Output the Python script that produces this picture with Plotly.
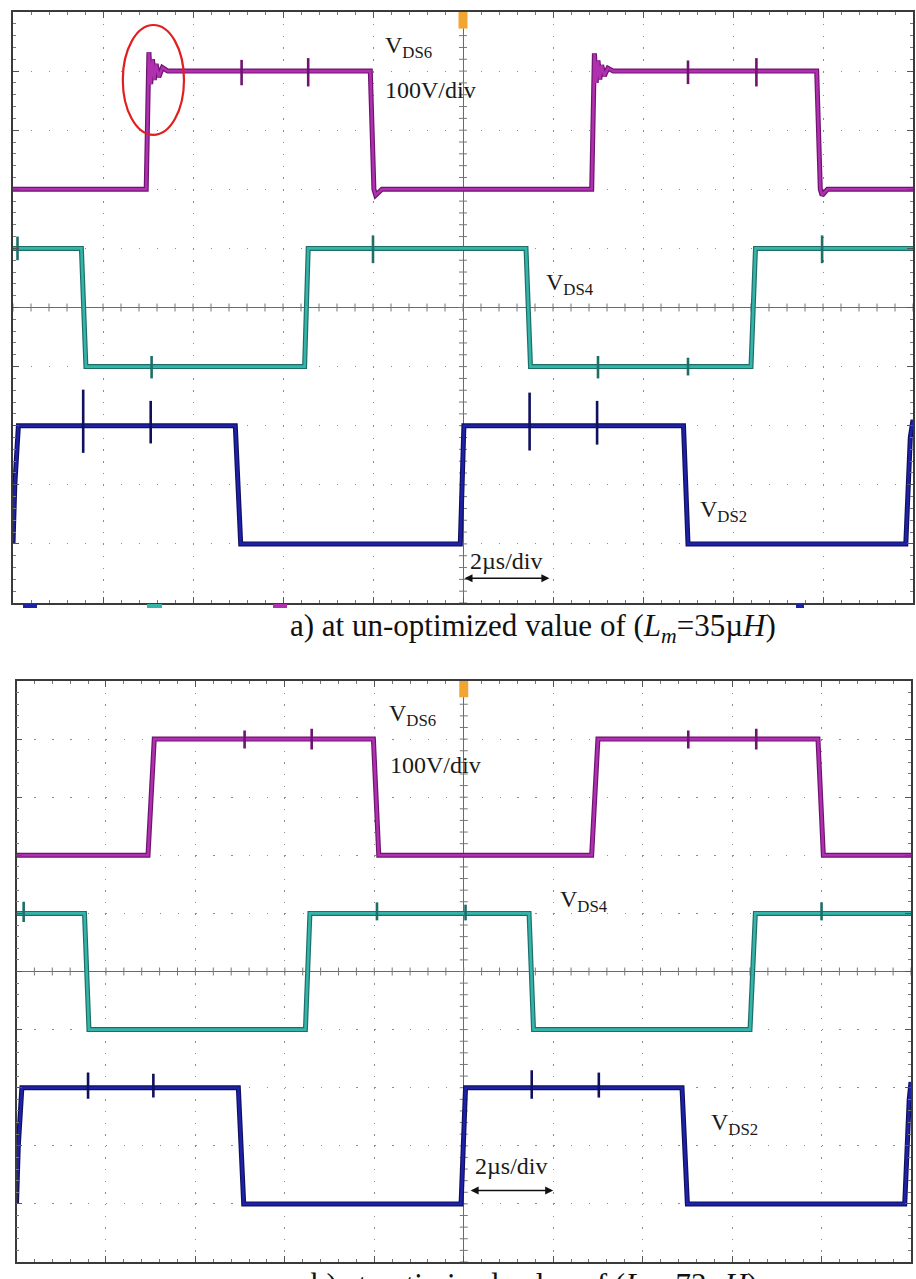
import numpy as np
import plotly.graph_objects as go

# ---------------- data (screen divisions: x = time div, y = volt div, centre = 0) ----------------
# Panel a) un-optimized Lm = 35 uH
A_VDS6_T = [-5.0, -3.52, -3.49, -3.47, -3.45, -3.43, -3.41, -3.38, -3.34, -3.28, -1.03, -0.99, -0.97, -0.9,
            1.43, 1.46, 1.48, 1.50, 1.52, 1.54, 1.57, 1.61, 1.67, 3.93, 3.97, 3.99, 4.05, 5.0]
A_VDS6_V = [2.0, 2.0, 4.32, 3.78, 4.2, 3.85, 4.12, 3.9, 4.06, 4.0, 4.0, 2.0, 1.9, 2.0,
            2.0, 4.3, 3.8, 4.18, 3.86, 4.1, 3.92, 4.05, 4.0, 4.0, 2.0, 1.9, 2.0, 2.0]
A_VDS4_T = [-5.0, -4.24, -4.19, -1.76, -1.72, 0.70, 0.75, 3.20, 3.25, 5.0]
A_VDS4_V = [1.0, 1.0, -1.0, -1.0, 1.0, 1.0, -1.0, -1.0, 1.0, 1.0]
A_VDS2_T = [-5.0, -4.98, -4.94, -2.53, -2.47, -0.03, 0.01, 2.45, 2.50, 4.92, 4.97, 5.0]
A_VDS2_V = [-4.0, -3.0, -2.0, -2.0, -4.0, -4.0, -2.0, -2.0, -4.0, -4.0, -2.2, -1.9]

# switching spikes: time, top, bottom
A_SPK6_T = [-2.46, -1.72, 2.50, 3.26]
A_SPK6_HI = [4.19, 4.22, 4.18, 4.22]
A_SPK6_LO = [3.76, 3.74, 3.78, 3.74]
A_SPK4_T = [-4.95, -3.46, -1.0, 1.50, 2.50, 3.99]
A_SPK4_HI = [1.2, -0.82, 1.22, -0.82, -0.85, 1.22]
A_SPK4_LO = [0.8, -1.2, 0.75, -1.2, -1.15, 0.75]
A_SPK2_T = [-4.22, -3.47, 0.74, 1.49]
A_SPK2_HI = [-1.39, -1.58, -1.44, -1.58]
A_SPK2_LO = [-2.46, -2.30, -2.42, -2.32]

# Panel b) optimized Lm = 73 uH
B_VDS6_T = [-5.0, -3.53, -3.46, -1.01, -0.95, 1.43, 1.50, 3.96, 4.02, 5.0]
B_VDS6_V = [2.0, 2.0, 4.0, 4.0, 2.0, 2.0, 4.0, 4.0, 2.0, 2.0]
B_VDS4_T = [-5.0, -4.24, -4.19, -1.77, -1.72, 0.73, 0.78, 3.20, 3.26, 5.0]
B_VDS4_V = [1.0, 1.0, -1.0, -1.0, 1.0, 1.0, -1.0, -1.0, 1.0, 1.0]
B_VDS2_T = [-5.0, -4.98, -4.94, -2.52, -2.46, -0.03, 0.02, 2.44, 2.50, 4.93, 4.98, 5.0]
B_VDS2_V = [-4.0, -3.0, -2.0, -2.0, -4.0, -4.0, -2.0, -2.0, -4.0, -4.0, -2.2, -1.9]

B_SPK6_T = [-2.45, -1.70, 2.51, 3.27]
B_SPK6_HI = [4.15, 4.18, 4.15, 4.18]
B_SPK6_LO = [3.84, 3.82, 3.84, 3.82]
B_SPK4_T = [-4.92, -0.97, 0.02, 4.0]
B_SPK4_HI = [1.2, 1.19, 1.15, 1.19]
B_SPK4_LO = [0.85, 0.88, 0.88, 0.88]
B_SPK2_T = [-4.20, -3.47, 0.76, 1.51]
B_SPK2_HI = [-1.74, -1.76, -1.70, -1.74]
B_SPK2_LO = [-2.19, -2.17, -2.19, -2.17]

LABELS = ["V<sub>DS6</sub>", "100V/div", "V<sub>DS4</sub>", "V<sub>DS2</sub>", "2\u00b5s/div"]
A_LABEL_X = [-0.89, -0.89, 0.90, 2.61, 0.06]
A_LABEL_Y = [4.40, 3.68, 0.40, -3.45, -4.29]
B_LABEL_X = [-0.86, -0.85, 1.05, 2.74, 0.10]
B_LABEL_Y = [4.42, 3.55, 1.22, -2.62, -3.34]
A_ARROW = (0.0, 0.96, -4.58)
B_ARROW = (0.06, 1.00, -3.77)
CAPTION_A = "a) at un-optimized value of (<i>L</i><sub><i>m</i></sub>=35\u00b5<i>H</i>)"
CAPTION_B = "b) at optimized value of (<i>L</i><sub><i>m</i></sub>=73\u00b5<i>H</i>)"

# ---------------- style ----------------
W, H = 916, 1279
MAG, MAG_D = "#B030B0", "#6E1470"
TEAL, TEAL_D = "#35B5AA", "#1E6E68"
BLUE, BLUE_D = "#1E22A8", "#10105E"
FONT = "Liberation Serif, Times New Roman, serif"

# pixel frames of the two screens
PA = dict(l=13, r=913, t=12, b=603)
PB = dict(l=16.5, r=911, t=681, b=1262)

fig = go.Figure()


def add_wave(t, v, col, dark, xa, ya):
    fig.add_trace(go.Scatter(x=t, y=v, mode="lines", line=dict(color=dark, width=5),
                             xaxis=xa, yaxis=ya, hoverinfo="skip", showlegend=False))
    fig.add_trace(go.Scatter(x=t, y=v, mode="lines", line=dict(color=col, width=2.6),
                             xaxis=xa, yaxis=ya, hoverinfo="skip", showlegend=False))


def add_spikes(t, hi, lo, dark, xa, ya):
    xs, ys = [], []
    for ti, h, l in zip(t, hi, lo):
        xs += [ti, ti, None]
        ys += [l, h, None]
    fig.add_trace(go.Scatter(x=xs, y=ys, mode="lines", line=dict(color=dark, width=2.6),
                             xaxis=xa, yaxis=ya, hoverinfo="skip", showlegend=False))


def add_center_ticks(xa, ya, dy, dx):
    xs, ys = [], []
    for p in np.arange(-5, 5.001, 0.2):
        xs += [p, p, None]
        ys += [-dy, dy, None]
        xs += [-dx, dx, None]
        ys += [p, p, None]
    fig.add_trace(go.Scatter(x=xs, y=ys, mode="lines", line=dict(color="#777777", width=1),
                             xaxis=xa, yaxis=ya, hoverinfo="skip", showlegend=False))


for xa, ya, P in (("x", "y", PA), ("x2", "y2", PB)):
    dy = 4.0 / ((P["b"] - P["t"]) / 10)
    dx = 4.0 / ((P["r"] - P["l"]) / 10)
    add_center_ticks(xa, ya, dy, dx)

add_wave(A_VDS6_T, A_VDS6_V, MAG, MAG_D, "x", "y")
add_wave(A_VDS4_T, A_VDS4_V, TEAL, TEAL_D, "x", "y")
add_wave(A_VDS2_T, A_VDS2_V, BLUE, BLUE_D, "x", "y")
add_spikes(A_SPK6_T, A_SPK6_HI, A_SPK6_LO, MAG_D, "x", "y")
add_spikes(A_SPK4_T, A_SPK4_HI, A_SPK4_LO, TEAL_D, "x", "y")
add_spikes(A_SPK2_T, A_SPK2_HI, A_SPK2_LO, BLUE_D, "x", "y")

add_wave(B_VDS6_T, B_VDS6_V, MAG, MAG_D, "x2", "y2")
add_wave(B_VDS4_T, B_VDS4_V, TEAL, TEAL_D, "x2", "y2")
add_wave(B_VDS2_T, B_VDS2_V, BLUE, BLUE_D, "x2", "y2")
add_spikes(B_SPK6_T, B_SPK6_HI, B_SPK6_LO, MAG_D, "x2", "y2")
add_spikes(B_SPK4_T, B_SPK4_HI, B_SPK4_LO, TEAL_D, "x2", "y2")
add_spikes(B_SPK2_T, B_SPK2_HI, B_SPK2_LO, BLUE_D, "x2", "y2")


def axis_style(P, horizontal):
    if horizontal:
        dom = [P["l"] / W, P["r"] / W]
        step = (P["b"] - P["t"]) / 50.0   # dots along vertical grid lines
    else:
        dom = [1 - P["b"] / H, 1 - P["t"] / H]
        step = (P["r"] - P["l"]) / 50.0   # dots along horizontal grid lines
    return dict(domain=dom, range=[-5, 5], showticklabels=False, fixedrange=True,
                showline=True, linecolor="#3a3a3a", linewidth=1.6, mirror="ticks",
                ticks="inside", ticklen=6, tickcolor="#555555", tickwidth=1, dtick=1, tick0=0,
                minor=dict(ticks="inside", ticklen=3, dtick=0.2, tickcolor="#777777", showgrid=False),
                showgrid=True, gridcolor="#8c8c8c", gridwidth=1.4,
                griddash="1.4px,%.2fpx" % (step - 1.4),
                zeroline=True, zerolinecolor="#6a6a6a", zerolinewidth=1)


fig.update_layout(
    width=W, height=H, margin=dict(l=0, r=0, t=0, b=0),
    paper_bgcolor="white", plot_bgcolor="white", showlegend=False,
    xaxis=dict(axis_style(PA, True), anchor="y"),
    yaxis=dict(axis_style(PA, False), anchor="x"),
    xaxis2=dict(axis_style(PB, True), anchor="y2"),
    yaxis2=dict(axis_style(PB, False), anchor="x2"),
)

ann = []
for (xa, ya, LX, LY, AR) in (("x", "y", A_LABEL_X, A_LABEL_Y, A_ARROW),
                              ("x2", "y2", B_LABEL_X, B_LABEL_Y, B_ARROW)):
    for txt, lx, ly in zip(LABELS, LX, LY):
        ann.append(dict(x=lx, y=ly, xref=xa, yref=ya, text=txt, showarrow=False,
                        xanchor="left", yanchor="middle",
                        font=dict(family=FONT, size=24, color="#1a1a1a")))
    x0, x1, ay = AR
    ann.append(dict(x=x1, y=ay, ax=x0, ay=ay, xref=xa, yref=ya, axref=xa, ayref=ya,
                    text="", showarrow=True, arrowhead=2, startarrowhead=2,
                    arrowside="end+start", arrowsize=1, arrowwidth=1.6, arrowcolor="#111111"))

ann.append(dict(x=533 / W, y=1 - 628 / H, xref="paper", yref="paper", text=CAPTION_A,
                showarrow=False, xanchor="center", yanchor="middle",
                font=dict(family=FONT, size=31, color="#111111")))
ann.append(dict(x=534 / W, y=1 - 1265 / H, xref="paper", yref="paper", text=CAPTION_B,
                showarrow=False, xanchor="center", yanchor="top",
                font=dict(family=FONT, size=31, color="#111111")))
fig.update_layout(annotations=ann)

shapes = [
    # red ellipse around the turn-on overshoot (panel a)
    dict(type="circle", xref="x", yref="y", x0=-3.78, x1=-3.10, y0=2.92, y1=4.78,
         line=dict(color="#E02020", width=2.2)),
    # orange trigger markers at top centre
    dict(type="rect", xref="x", yref="y", x0=-0.05, x1=0.05, y0=4.72, y1=5.0,
         fillcolor="#F2A530", line=dict(width=0)),
    dict(type="rect", xref="x2", yref="y2", x0=-0.05, x1=0.05, y0=4.72, y1=5.0,
         fillcolor="#F2A530", line=dict(width=0)),
]
# channel markers below panel a
for px0, px1, c in ((23, 37, BLUE), (147, 162, TEAL), (273, 287, MAG), (796, 804, BLUE)):
    shapes.append(dict(type="rect", xref="paper", yref="paper", x0=px0 / W, x1=px1 / W,
                       y0=1 - 608 / H, y1=1 - 604 / H, fillcolor=c, line=dict(width=0)))
fig.update_layout(shapes=shapes)

fig.write_html("out.html", config={"displayModeBar": False},
               post_script="document.body.style.margin='0';document.body.style.overflow='hidden';")
